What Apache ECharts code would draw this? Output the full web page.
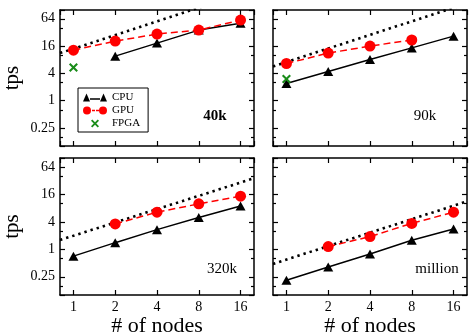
<!DOCTYPE html>
<html><head><meta charset="utf-8">
<script src="https://cdn.jsdelivr.net/npm/echarts@6/dist/echarts.min.js"></script>
<style>html,body{margin:0;padding:0;background:#fff}#c{width:474px;height:335px}</style>
</head><body><div id="c"></div>
<script>
// ---- data ----
const nodes = [1, 2, 4, 8, 16];
const xTickLabels = ['1', '2', '4', '8', '16'];
const yTickLabels = ['0.25', '1', '4', '16', '64'];
const panelLabels = ['40k', '90k', '320k', 'million'];
const idealNodes = [0.8, 20];

const cpu40k = [null, 9.6, 18.6, 36, 51];
const gpu40k = [13, 20.6, 29.5, 36, 60];
const fpga40k = [5.4, null, null, null, null];
const ideal40k = [11.2, 280];

const cpu90k = [2.4, 4.4, 8.1, 14.6, 26.5];
const gpu90k = [6.6, 11.2, 16, 21.8, null];
const fpga90k = [3.0, null, null, null, null];
const ideal90k = [5.7, 140];

const cpu320k = [0.71, 1.4, 2.7, 5.0, 8.9];
const gpu320k = [null, 3.6, 6.5, 9.9, 14.6];
const fpga320k = [null, null, null, null, null];
const ideal320k = [1.6, 36];

const cpuMillion = [0.21, 0.41, 0.79, 1.58, 2.8];
const gpuMillion = [null, 1.15, 1.9, 3.7, 6.5];
const fpgaMillion = [null, null, null, null, null];
const idealMillion = [0.48, 11.2];

// ---- layout ----
const FONT = '"Liberation Serif", "DejaVu Serif", serif';
const grids = [
  {left: 60, top: 10, width: 194, height: 136},
  {left: 273, top: 10, width: 194, height: 136},
  {left: 60, top: 158, width: 194, height: 137},
  {left: 273, top: 158, width: 194, height: 137}
];
const panels = [
  {cpu: cpu40k, gpu: gpu40k, fpga: fpga40k, ideal: ideal40k},
  {cpu: cpu90k, gpu: gpu90k, fpga: fpga90k, ideal: ideal90k},
  {cpu: cpu320k, gpu: gpu320k, fpga: fpga320k, ideal: ideal320k},
  {cpu: cpuMillion, gpu: gpuMillion, fpga: fpgaMillion, ideal: idealMillion}
];
const yTickValues = yTickLabels.map(parseFloat);
function fmt(vals, labels) {
  return function (v) {
    for (let k = 0; k < vals.length; k++) {
      if (Math.abs(v - vals[k]) < 1e-6 * vals[k]) return labels[k];
    }
    return '';
  };
}
const pts = (xs, ys) => xs.map((x, k) => [x, ys[k]]).filter(p => p[1] != null);

const xAxis = [], yAxis = [], series = [];
grids.forEach((g, i) => {
  const bottomRow = i >= 2, leftCol = i % 2 === 0;
  ['bottom', 'top'].forEach(pos => {
    const main = pos === 'bottom';
    xAxis.push({
      type: 'log', logBase: 2, min: 0.8, max: 20, gridIndex: i, position: pos,
      axisLine: {show: true, onZero: false, lineStyle: {color: '#000', width: 1.5}},
      axisTick: {show: true, inside: true, length: 5, lineStyle: {color: '#000', width: 1.2}},
      axisLabel: {show: main && bottomRow, formatter: fmt(nodes, xTickLabels), fontFamily: FONT, fontSize: 14, color: '#000', margin: 5, showMinLabel: false, showMaxLabel: false},
      splitLine: {show: false}, minorTick: {show: false},
      name: main && bottomRow ? '# of nodes' : '', nameLocation: 'middle', nameGap: 13,
      nameTextStyle: {fontFamily: FONT, fontSize: 22, color: '#000', verticalAlign: 'top'}
    });
  });
  ['left', 'right'].forEach(pos => {
    const main = pos === 'left';
    yAxis.push({
      type: 'log', logBase: 4, min: 0.1, max: 100, gridIndex: i, position: pos, splitNumber: 5,
      axisLine: {show: true, onZero: false, lineStyle: {color: '#000', width: 1.5}},
      axisTick: {show: true, inside: true, length: 5, lineStyle: {color: '#000', width: 1.2}},
      minorTick: {show: true, splitNumber: 2, length: 3, lineStyle: {color: '#000', width: 1.2}},
      axisLabel: {show: main && leftCol, formatter: fmt(yTickValues, yTickLabels), fontFamily: FONT, fontSize: 14, color: '#000', margin: 5, showMinLabel: false, showMaxLabel: false},
      splitLine: {show: false}, minorSplitLine: {show: false},
      name: main && leftCol ? 'tps' : '', nameLocation: 'middle', nameGap: 37,
      nameTextStyle: {fontFamily: FONT, fontSize: 21, color: '#000'}
    });
  });
  const p = panels[i];
  series.push({
    name: 'ideal', type: 'line', xAxisIndex: 2 * i, yAxisIndex: 2 * i, clip: true,
    data: pts(idealNodes, p.ideal), showSymbol: false, symbol: 'none',
    lineStyle: {color: '#000', width: 2.6, type: [2.4, 4], cap: 'butt'}, silent: true, z: 1
  });
  series.push({
    name: 'CPU', type: 'line', xAxisIndex: 2 * i, yAxisIndex: 2 * i,
    data: pts(nodes, p.cpu), symbol: 'triangle', symbolSize: [10, 9],
    itemStyle: {color: '#000'}, lineStyle: {color: '#000', width: 1.5}, z: 3
  });
  series.push({
    name: 'GPU', type: 'line', xAxisIndex: 2 * i, yAxisIndex: 2 * i,
    data: pts(nodes, p.gpu), symbol: 'circle', symbolSize: 11,
    itemStyle: {color: '#ff0000'}, lineStyle: {color: '#ff0000', width: 1.5, type: [7, 4]}, z: 4
  });
  series.push({
    name: 'FPGA', type: 'line', xAxisIndex: 2 * i, yAxisIndex: 2 * i,
    data: pts(nodes, p.fpga),
    symbol: 'path://M0,1.6L1.6,0L5,3.4L8.4,0L10,1.6L6.6,5L10,8.4L8.4,10L5,6.6L1.6,10L0,8.4L3.4,5Z',
    symbolSize: 9, itemStyle: {color: '#1a8c1a'}, lineStyle: {width: 0}, z: 5
  });
});

const cpuIcon = 'path://M0,8L3.5,0L7,8Z M7,4.8L17,4.8L17,6.2L7,6.2Z M17,8L20.5,0L24,8Z';
const gpuIcon = 'path://M0,4A4,4 0 1,0 8,4A4,4 0 1,0 0,4Z M9,3.3L12,3.3L12,4.7L9,4.7Z M13,3.3L16,3.3L16,4.7L13,4.7Z M16,4A4,4 0 1,0 24,4A4,4 0 1,0 16,4Z';
const fpgaIcon = 'path://M0,1.6L1.6,0L5,3.4L8.4,0L10,1.6L6.6,5L10,8.4L8.4,10L5,6.6L1.6,10L0,8.4L3.4,5Z';

const labelPos = [[215, 116, 'bold'], [425, 116, 'normal'], [222, 269, 'normal'], [437, 269, 'normal']];

const option = {
  animation: false,
  backgroundColor: '#fff',
  grid: grids.map(g => Object.assign({outerBoundsMode: 'none', containLabel: false}, g)),
  xAxis, yAxis, series,
  legend: {
    data: [{name: 'CPU', icon: cpuIcon}, {name: 'GPU', icon: gpuIcon}, {name: 'FPGA', icon: fpgaIcon}],
    orient: 'vertical', left: 78, top: 88, selectedMode: false,
    borderColor: '#000', borderWidth: 1, padding: [4, 8, 3, 5],
    itemWidth: 24, itemHeight: 8, itemGap: 2,
    textStyle: {fontFamily: FONT, fontSize: 11, color: '#000', padding: [0, 0, 0, 0]}
  },
  graphic: panelLabels.map((t, i) => ({
    type: 'text', x: labelPos[i][0], y: labelPos[i][1], z: 10,
    style: {text: t, fill: '#000', font: labelPos[i][2] + ' 15px ' + FONT, textAlign: 'center', textVerticalAlign: 'middle'}
  }))
};
const chart = echarts.init(document.getElementById('c'), null, {renderer: 'canvas'});
chart.setOption(option);
</script>
</body></html>
